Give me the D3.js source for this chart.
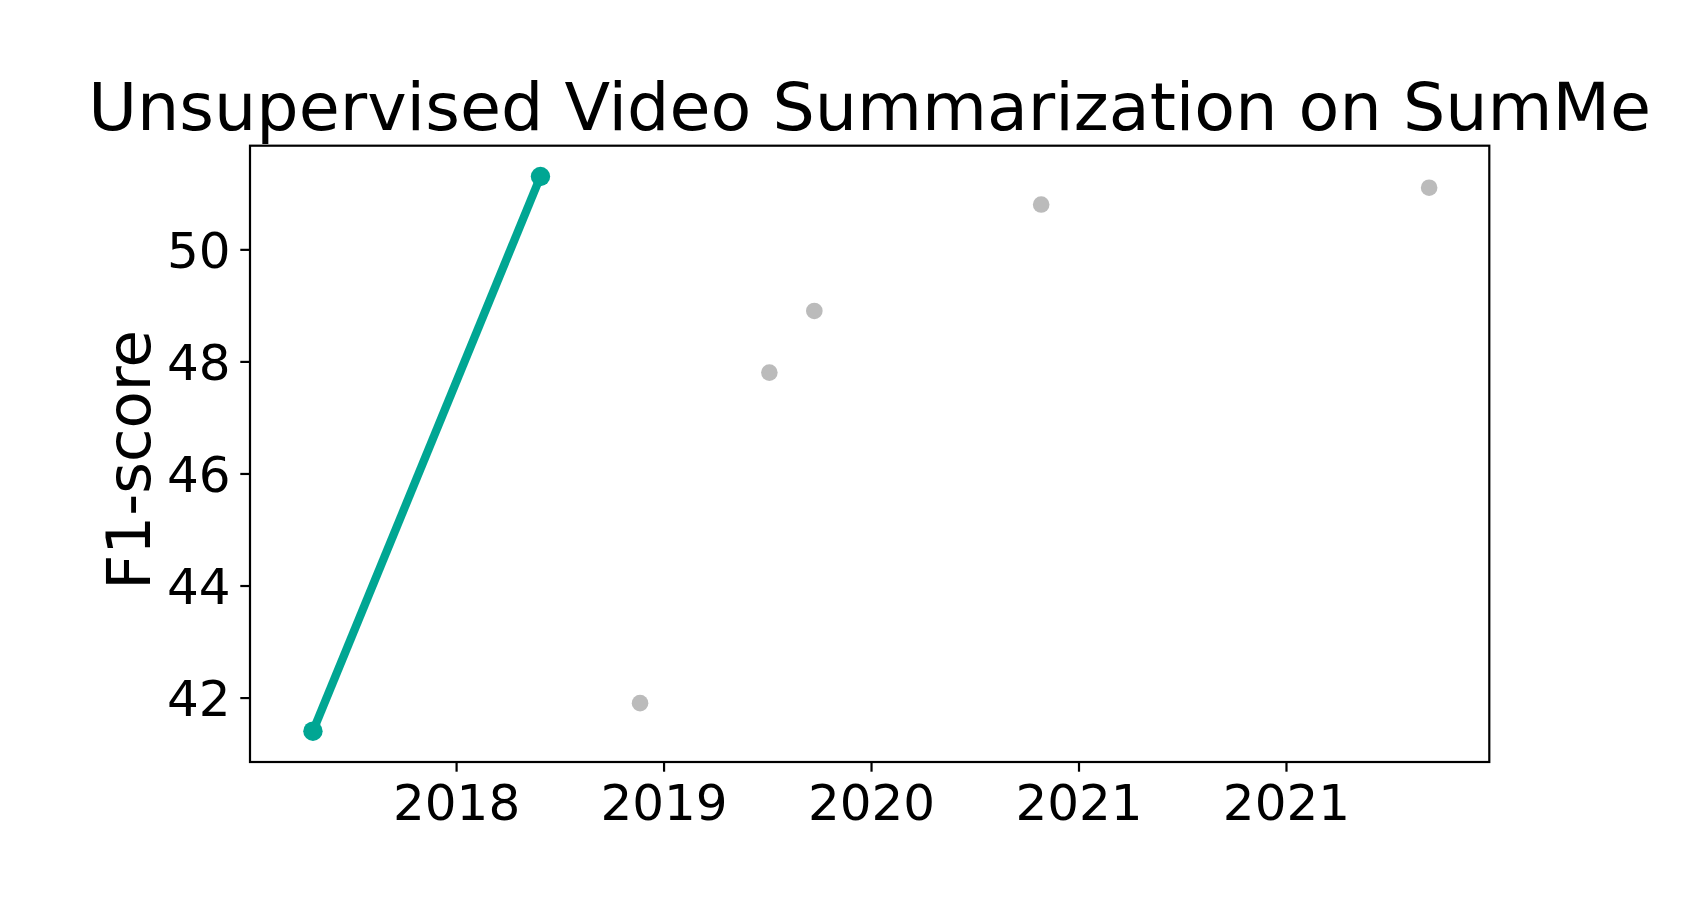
<!DOCTYPE html>
<html>
<head>
<meta charset="utf-8">
<script src="https://cdn.jsdelivr.net/npm/d3@7"></script>
<style>
  body { margin: 0; background: #fff; }
  text { font-family: "DejaVu Sans", sans-serif; fill: #000; }
</style>
</head>
<body>
<div id="chart"></div>
<script>
var w = 1700;
var h = 900;
var margin = {top: 145.7, right: 210.7, bottom: 138, left: 250};

// state of the art line
var sotaDates = ["2018-01-12", "2018-12-07"];
var sotaValues = [41.4, 51.3];

// other papers
var otherDates = ["2019-04-30", "2019-11-03", "2020-01-07", "2020-11-30", "2022-06-14"];
var otherValues = [41.9, 47.8, 48.9, 50.8, 51.1];

var xTickDates = ["2018-08-07", "2019-06-03", "2020-03-29", "2021-01-23", "2021-11-19"];
var yTicks = [42, 44, 46, 48, 50];

// axis limits
var xLimits = ["2017-10-13", "2022-09-09"];
var yLimits = [40.85, 51.85];

var parseDate = d3.utcParse("%Y-%m-%d");

var sota = sotaDates.map(function(d, i) { return [parseDate(d), sotaValues[i]]; });
var others = otherDates.map(function(d, i) { return [parseDate(d), otherValues[i]]; });

var x = d3.scaleUtc()
          .domain(xLimits.map(parseDate))
          .range([margin.left, w - margin.right]);

var y = d3.scaleLinear()
          .domain(yLimits)
          .range([h - margin.bottom, margin.top]);

var svg = d3.select("#chart")
            .append("svg")
            .attr("width", w)
            .attr("height", h);

// grey points
svg.selectAll("circle.other")
   .data(others)
   .enter()
   .append("circle")
   .attr("class", "other")
   .attr("cx", function(d) { return x(d[0]); })
   .attr("cy", function(d) { return y(d[1]); })
   .attr("r", 8.3)
   .attr("fill", "#bbbbbb");

// sota line
var line = d3.line()
             .x(function(d) { return x(d[0]); })
             .y(function(d) { return y(d[1]); });

svg.append("path")
   .datum(sota)
   .attr("d", line)
   .attr("fill", "none")
   .attr("stroke", "#00a693")
   .attr("stroke-width", 8.3);

svg.selectAll("circle.sota")
   .data(sota)
   .enter()
   .append("circle")
   .attr("class", "sota")
   .attr("cx", function(d) { return x(d[0]); })
   .attr("cy", function(d) { return y(d[1]); })
   .attr("r", 9.7)
   .attr("fill", "#00a693");

// axes
var fmt = d3.utcFormat("%Y");
var xAxis = d3.axisBottom(x)
              .tickValues(xTickDates.map(parseDate))
              .tickFormat(fmt)
              .tickSizeInner(9.7)
              .tickSizeOuter(0)
              .tickPadding(9.7);

var yAxis = d3.axisLeft(y)
              .tickValues(yTicks)
              .tickSizeInner(9.7)
              .tickSizeOuter(0)
              .tickPadding(9.7);

var gx = svg.append("g")
   .attr("transform", "translate(0," + (h - margin.bottom) + ")")
   .call(xAxis);
gx.selectAll("text").style("font-size", "50px").attr("dy", "0.78em");

var gy = svg.append("g")
   .attr("transform", "translate(" + margin.left + ",0)")
   .call(yAxis);
gy.selectAll("text").style("font-size", "50px").attr("dy", "0.36em");

[gx, gy].forEach(function(g) {
  g.select(".domain").remove();
  g.selectAll(".tick line").attr("stroke", "#000").attr("stroke-width", 2.2);
});

// frame
svg.append("rect")
   .attr("x", margin.left)
   .attr("y", margin.top)
   .attr("width", w - margin.left - margin.right)
   .attr("height", h - margin.top - margin.bottom)
   .attr("fill", "none")
   .attr("stroke", "#000")
   .attr("stroke-width", 2.2);

// title
svg.append("text")
   .attr("x", (margin.left + w - margin.right) / 2)
   .attr("y", 130)
   .attr("text-anchor", "middle")
   .style("font-size", "66.7px")
   .text("Unsupervised Video Summarization on SumMe");

// y label
svg.append("text")
   .attr("transform", "translate(150," + ((margin.top + h - margin.bottom) / 2 + 6) + ") rotate(-90)")
   .attr("text-anchor", "middle")
   .style("font-size", "61px")
   .text("F1-score");
</script>
</body>
</html>
